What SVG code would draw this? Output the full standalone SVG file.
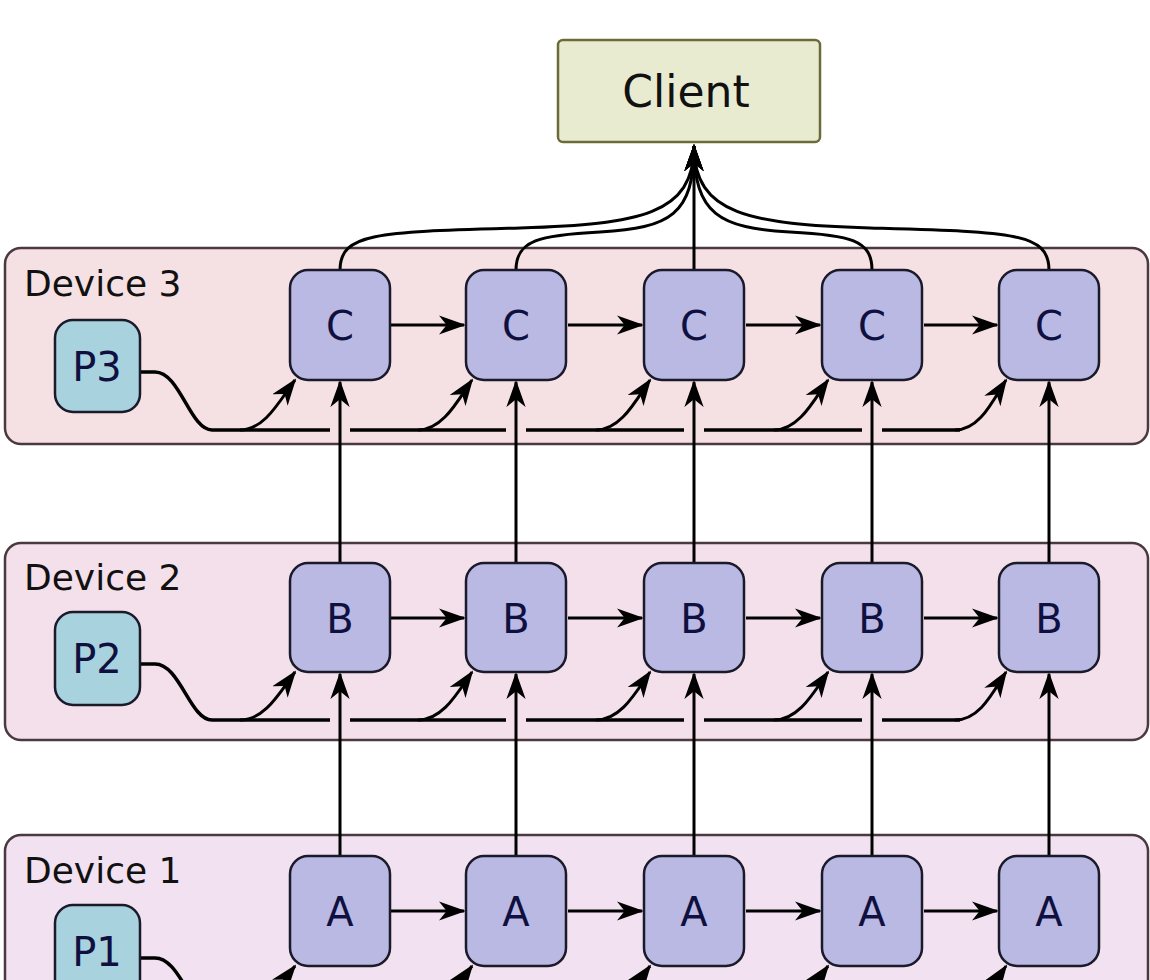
<svg xmlns="http://www.w3.org/2000/svg" width="1150" height="980" viewBox="0 0 1150 980">
<defs>
<marker id="ah" viewBox="0 0 14 10" refX="13" refY="5" markerWidth="9" markerHeight="6.5" markerUnits="strokeWidth" orient="auto"><path d="M0,0 L14,5 L0,10 L4,5 Z" fill="#000"/></marker>
<style>
.panel{stroke:#4a3a40;stroke-width:2.5}
.node{fill:#b9b9e3;stroke:#1a1a2a;stroke-width:2.5}
.p{fill:#a8d2de;stroke:#1a1a2a;stroke-width:2.5}
text{font-family:"DejaVu Sans",sans-serif;fill:#111}
.lbl{font-size:40px;text-anchor:middle;fill:#101040}
.dev{font-size:36px}
.c{fill:none;stroke:#000;stroke-width:3.5}
.a{fill:none;stroke:#000;stroke-width:3;marker-end:url(#ah)}
</style>
</defs>
<rect width="1150" height="980" fill="#fff"/>
<g id="client"><rect x="558" y="40" width="262" height="102" rx="5" fill="#e9ebd1" stroke="#6b6b3a" stroke-width="2.5"/><text x="686" y="107" font-size="44" text-anchor="middle">Client</text></g>
<g id="device3"><rect class="panel" x="5" y="248" width="1143" height="196" rx="16" fill="#f5e0e3"/><text class="dev" x="24" y="296">Device 3</text></g>
<g id="device2"><rect class="panel" x="5" y="543" width="1143" height="197" rx="16" fill="#f3e0ea"/><text class="dev" x="24" y="590">Device 2</text></g>
<g id="device1"><rect class="panel" x="5" y="835" width="1143" height="180" rx="16" fill="#f2e1f0"/><text class="dev" x="24" y="883">Device 1</text></g>
<g id="connectors">
<path class="a" d="M340,270 C340,232 380,232 520,228 C640,224 694,215 694,146"/>
<path class="a" d="M516,270 C516,240 540,235 600,232 C670,228 694,215 694,146"/>
<path class="a" d="M694,270 L694,146"/>
<path class="a" d="M872,270 C872,240 850,235 790,232 C720,228 694,215 694,146"/>
<path class="a" d="M1049,270 C1049,232 1010,232 870,228 C750,224 694,215 694,146"/>
<g id="hz">
<path class="a" d="M391,325 L464,325"/><path class="a" d="M568,325 L642,325"/><path class="a" d="M746,325 L820,325"/><path class="a" d="M924,325 L997,325"/>
<path class="a" d="M391,618 L464,618"/><path class="a" d="M568,618 L642,618"/><path class="a" d="M746,618 L820,618"/><path class="a" d="M924,618 L997,618"/>
<path class="a" d="M391,911 L464,911"/><path class="a" d="M568,911 L642,911"/><path class="a" d="M746,911 L820,911"/><path class="a" d="M924,911 L997,911"/>
</g>
<g id="vt">
<path class="a" d="M340,563 L340,382"/><path class="a" d="M516,563 L516,382"/><path class="a" d="M694,563 L694,382"/><path class="a" d="M872,563 L872,382"/><path class="a" d="M1049,563 L1049,382"/>
<path class="a" d="M340,856 L340,674"/><path class="a" d="M516,856 L516,674"/><path class="a" d="M694,856 L694,674"/><path class="a" d="M872,856 L872,674"/><path class="a" d="M1049,856 L1049,674"/>
</g>
<g id="bus3">
<path class="c" d="M140,372 L155,372 C180,372 190,430 212,430 L330,430 M350,430 L506,430 M526,430 L684,430 M704,430 L862,430 M882,430 L960,430"/>
<path class="a" d="M240,430 C265,430 280,400 295,380"/><path class="a" d="M418,430 C443,430 458,400 472,380"/><path class="a" d="M596,430 C621,430 636,400 650,380"/><path class="a" d="M774,430 C799,430 814,400 828,380"/><path class="a" d="M955,430 C980,430 993,400 1006,380"/>
</g>
<g id="bus2">
<path class="c" d="M140,664 L155,664 C180,664 190,720 212,720 L330,720 M350,720 L506,720 M526,720 L684,720 M704,720 L862,720 M882,720 L960,720"/>
<path class="a" d="M240,720 C265,720 280,692 295,672"/><path class="a" d="M418,720 C443,720 458,692 472,672"/><path class="a" d="M596,720 C621,720 636,692 650,672"/><path class="a" d="M774,720 C799,720 814,692 828,672"/><path class="a" d="M955,720 C980,720 993,692 1006,672"/>
</g>
<g id="bus1">
<path class="c" d="M140,958 L155,958 C180,958 190,1012 212,1012 L960,1012"/>
<path class="a" d="M240,1012 C265,1012 280,985 295,966"/><path class="a" d="M418,1012 C443,1012 458,985 472,966"/><path class="a" d="M596,1012 C621,1012 636,985 650,966"/><path class="a" d="M774,1012 C799,1012 814,985 828,966"/><path class="a" d="M955,1012 C980,1012 993,985 1006,966"/>
</g>
</g>
<g id="p3"><rect class="p" x="55" y="320" width="85" height="92" rx="18"/><text class="lbl" x="97" y="381">P3</text></g>
<g id="p2"><rect class="p" x="55" y="612" width="85" height="93" rx="18"/><text class="lbl" x="97" y="673">P2</text></g>
<g id="p1"><rect class="p" x="55" y="905" width="85" height="93" rx="18"/><text class="lbl" x="97" y="966">P1</text></g>
<g id="c1"><rect class="node" x="290" y="270" width="100" height="110" rx="18"/><text class="lbl" x="340" y="340">C</text></g>
<g id="c2"><rect class="node" x="466" y="270" width="100" height="110" rx="18"/><text class="lbl" x="516" y="340">C</text></g>
<g id="c3"><rect class="node" x="644" y="270" width="100" height="110" rx="18"/><text class="lbl" x="694" y="340">C</text></g>
<g id="c4"><rect class="node" x="822" y="270" width="100" height="110" rx="18"/><text class="lbl" x="872" y="340">C</text></g>
<g id="c5"><rect class="node" x="999" y="270" width="100" height="110" rx="18"/><text class="lbl" x="1049" y="340">C</text></g>
<g id="b1"><rect class="node" x="290" y="563" width="100" height="109" rx="18"/><text class="lbl" x="340" y="633">B</text></g>
<g id="b2"><rect class="node" x="466" y="563" width="100" height="109" rx="18"/><text class="lbl" x="516" y="633">B</text></g>
<g id="b3"><rect class="node" x="644" y="563" width="100" height="109" rx="18"/><text class="lbl" x="694" y="633">B</text></g>
<g id="b4"><rect class="node" x="822" y="563" width="100" height="109" rx="18"/><text class="lbl" x="872" y="633">B</text></g>
<g id="b5"><rect class="node" x="999" y="563" width="100" height="109" rx="18"/><text class="lbl" x="1049" y="633">B</text></g>
<g id="a1"><rect class="node" x="290" y="856" width="100" height="110" rx="18"/><text class="lbl" x="340" y="926">A</text></g>
<g id="a2"><rect class="node" x="466" y="856" width="100" height="110" rx="18"/><text class="lbl" x="516" y="926">A</text></g>
<g id="a3"><rect class="node" x="644" y="856" width="100" height="110" rx="18"/><text class="lbl" x="694" y="926">A</text></g>
<g id="a4"><rect class="node" x="822" y="856" width="100" height="110" rx="18"/><text class="lbl" x="872" y="926">A</text></g>
<g id="a5"><rect class="node" x="999" y="856" width="100" height="110" rx="18"/><text class="lbl" x="1049" y="926">A</text></g>
</svg>
